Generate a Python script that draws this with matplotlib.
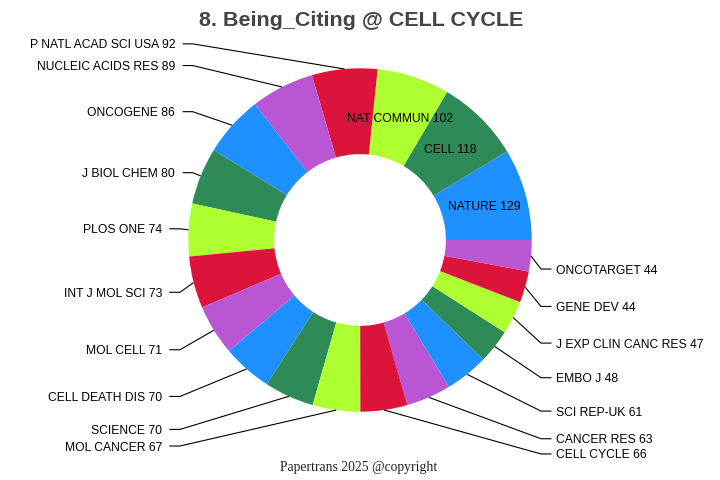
import numpy as np
import matplotlib
matplotlib.use("Agg")
import matplotlib.pyplot as plt

journals = ["NATURE", "CELL", "NAT COMMUN", "P NATL ACAD SCI USA", "NUCLEIC ACIDS RES",
            "ONCOGENE", "J BIOL CHEM", "PLOS ONE", "INT J MOL SCI", "MOL CELL",
            "CELL DEATH DIS", "SCIENCE", "MOL CANCER", "CELL CYCLE", "CANCER RES",
            "SCI REP-UK", "EMBO J", "J EXP CLIN CANC RES", "GENE DEV", "ONCOTARGET"]
counts = [129, 118, 102, 92, 89, 86, 80, 74, 73, 71, 70, 70, 67, 66, 63, 61, 48, 47, 44, 44]
palette = ["#1E90FF", "#2E8B57", "#ADFF2F", "#DC143C", "#BA55D3"]
title = "8. Being_Citing @ CELL CYCLE"
footer = "Papertrans 2025 @copyright"

W, H = 720, 480
fig = plt.figure(figsize=(W / 100, H / 100), dpi=100)
ax = fig.add_axes([0, 0, 1, 1])

cx, cy = 360, H - 240
R = 171.7
colors = [palette[i % len(palette)] for i in range(len(counts))]
wedges, _ = ax.pie(counts, colors=colors, startangle=0, counterclock=True,
                   radius=R, center=(cx, cy), frame=True,
                   wedgeprops=dict(width=R * 0.5, linewidth=0))
ax.set_xlim(0, W)
ax.set_ylim(0, H)
ax.set_aspect("equal")
ax.axis("off")

fs = 12.1 * 72 / 100
for w, name, val in zip(wedges, journals, counts):
    mid = np.deg2rad((w.theta1 + w.theta2) / 2)
    c, s = np.cos(mid), np.sin(mid)
    label = f"{name} {val}"
    if val >= 100:
        r = R * 0.75
        ax.text(cx + r * c, cy + r * s, label, ha="center", va="center_baseline",
                fontsize=fs, family="Liberation Sans", color="black")
        continue
    x0, y0 = cx + R * c, cy + R * s
    if c > 0:
        ey = cy - 10 + 206 * s
        ex = cx + 181
        hx = ex + 10.5
        tx, ha = hx + 4, "left"
    elif s > 0.1:
        ey = cy - 10 + 207 * s
        ex = cx - 167.3
        hx = ex - 10
        tx, ha = hx - 7.5, "right"
    else:
        ey = cy - 1 + 207 * s
        ex = cx - 180
        hx = ex - 10.7
        tx, ha = hx - 7, "right"
    ax.plot([x0, ex, hx], [y0, ey, ey], color="black", lw=0.8, solid_capstyle="butt")
    ax.text(tx, ey, label, ha=ha, va="center_baseline", fontsize=fs,
            family="Liberation Sans", color="black")

ax.text(361.5, H - 18.5, title, ha="center", va="center_baseline",
        fontsize=21.5 * 72 / 100, fontweight="bold", family="Liberation Sans", color="#444444")
ax.text(359, H - 466, footer, ha="center", va="center_baseline",
        fontsize=13.6 * 72 / 100, family="Liberation Serif", color="#222222")

fig.savefig("out.png", dpi=100)
